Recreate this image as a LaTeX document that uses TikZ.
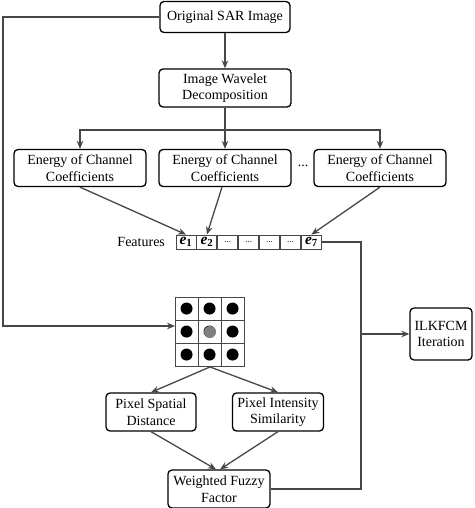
\documentclass[tikz,border=0pt]{standalone}
\usepackage{fontspec}
\setmainfont{Liberation Serif}
\usepackage{xcolor}
\usepackage{tikz}
\usetikzlibrary{arrows.meta}
\usetikzlibrary{calc}
\usetikzlibrary{positioning}
\definecolor{lgray}{HTML}{474747}
\begin{document}
\begin{tikzpicture}[x=1pt,y=-1pt,semithick]
					\tikzstyle{blk}=[draw=black, line width=1.3pt, rounded corners=4pt, align=center, inner sep=1pt, font=\fontsize{14}{16.5}\selectfont]
					\tikzstyle{cell}=[draw=lgray, line width=0.9pt, minimum width=20pt, minimum height=14pt, inner sep=0pt, font=\fontsize{15.5}{14}\selectfont]
					\tikzstyle{arr}=[draw=lgray, line width=1.3pt, -{Stealth[length=8pt,width=6.5pt]}]
					\tikzstyle{ln}=[draw=lgray, line width=1.3pt]
					\useasboundingbox (0,0) rectangle (474,508);
						\node[blk, minimum width=130pt, minimum height=31pt]  (orig) at (225,17) {Original SAR Image};
						\node[blk, minimum width=132pt, minimum height=38pt]  (wav) at (225,88) {Image Wavelet\\Decomposition};
						\node[blk, minimum width=132pt, minimum height=37pt]  (en1) at (80,168) {Energy of Channel\\Coefficients};
						\node[blk, minimum width=132pt, minimum height=37pt]  (en2) at (225,168) {Energy of Channel\\Coefficients};
						\node[blk, minimum width=132pt, minimum height=37pt]  (en3) at (380,168) {Energy of Channel\\Coefficients};
						\node[font=\fontsize{14}{16}\selectfont]  (dots) at (303,166) {...};
						\node[cell]  (f1) at (186,242) {\textbf{\textit{e}}\textsubscript{\textbf{1}}};
						\node[cell]  (f2) [right=0pt of f1] {\textbf{\textit{e}}\textsubscript{\textbf{2}}};
						\node[cell]  (f3) [right=0pt of f2] {\small ...};
						\node[cell]  (f4) [right=0pt of f3] {\small ...};
						\node[cell]  (f5) [right=0pt of f4] {\small ...};
						\node[cell]  (f6) [right=0pt of f5] {\small ...};
						\node[cell]  (f7) [right=0pt of f6] {\textbf{\textit{e}}\textsubscript{\textbf{7}}};
						\node[font=\fontsize{14}{16}\selectfont]  (feat) [left=7pt of f1] {Features};
						\node[draw=lgray, line width=0.9pt, minimum width=69pt, minimum height=69pt]  (grid) at (210,332) {};
						\node[blk, minimum width=62pt, minimum height=52pt]  (ilk) at (441,334) {ILKFCM\\Iteration};
						\node[blk, minimum width=90pt, minimum height=38pt]  (ps) at (151,412) {Pixel Spatial\\Distance};
						\node[blk, minimum width=91pt, minimum height=38pt]  (pi) at (278,412) {Pixel Intensity\\Similarity};
						\node[blk, minimum width=102pt, minimum height=38pt]  (wf) at (219,489) {Weighted Fuzzy\\Factor};
						\coordinate (lft) at (3,326);
						\coordinate (br) at (225,130);
						\coordinate (rt) at (361,242);

						\foreach \i in {1,2}{
							\draw[draw=lgray, line width=0.9pt] ($(grid.north west)+(23*\i,0)$) -- ($(grid.south west)+(23*\i,0)$);
							\draw[draw=lgray, line width=0.9pt] ($(grid.north west)+(0,23*\i)$) -- ($(grid.north east)+(0,23*\i)$);
						}
						\foreach \i in {0,1,2}{
							\foreach \j in {0,1,2}{
								\fill[black] ($(grid.north west)+(11.5+23*\i,11.5+23*\j)$) circle (6pt);
							}
						}
						\fill[gray] (grid.center) circle (6pt);

						\draw[arr] (orig) -- (wav);
						\draw[ln] (wav) -- (br);
						\draw[arr] (br) -- (en2);
						\draw[arr] (br) -| (en1);
						\draw[arr] (br) -| (en3);
						\draw[arr] (en1.south) -- (f1.north);
						\draw[arr] ($(en2.south)+(-3,0)$) -- (f2.north);
						\draw[arr] (en3.south) -- (f7.north);
						\draw[arr] (orig.west) -| (lft) -- ([yshift=6pt]grid.west);
						\draw[arr] (grid.south) -- (ps.north);
						\draw[arr] (grid.south) -- (pi.north);
						\draw[arr] (ps.south) -- ([xshift=-3pt]wf.north);
						\draw[arr] (pi.south) -- ([xshift=1pt]wf.north);
						\draw[ln] (f7.east) -- (rt) -- (rt |- wf.east) -- (wf.east);
						\draw[arr] (rt |- ilk.west) -- (ilk.west);
 					\end{tikzpicture}
\end{document}
